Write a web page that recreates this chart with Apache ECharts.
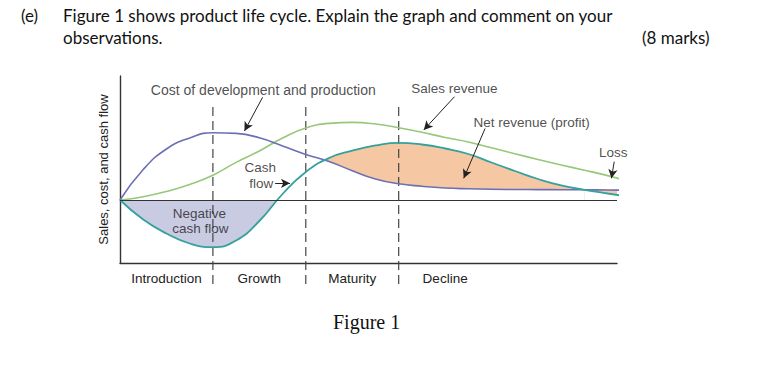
<!DOCTYPE html>
<html>
<head>
<meta charset="utf-8">
<script src="https://cdn.jsdelivr.net/npm/echarts@6/dist/echarts.min.js"></script>
<style>
  html, body { margin:0; padding:0; background:#fff; }
  #wrap { position:relative; width:758px; height:375px; overflow:hidden; }
  #chart { position:absolute; left:0; top:0; width:758px; height:375px; }
  .t { position:absolute; font-family: Lato, "Open Sans", sans-serif; font-size:17px; line-height:20px; color:#111; white-space:nowrap; }
  .cap { position:absolute; font-family: "Liberation Serif", "DejaVu Serif", serif; font-size:20px; line-height:24px; color:#111; white-space:nowrap; }
</style>
</head>
<body>
<div id="wrap">
  <div id="chart"></div>
  <div class="t" style="left:21px; top:6px;">(e)</div>
  <div class="t" style="left:63px; top:6px;">Figure 1 shows product life cycle. Explain the graph and comment on your</div>
  <div class="t" style="left:63px; top:28px;">observations.</div>
  <div class="t" style="left:642px; top:28px;">(8 marks)</div>
  <div class="cap" style="left:333px; top:310px;">Figure 1</div>
</div>
<script>
// ---- data ----
const stageNames = ['Introduction', 'Growth', 'Maturity', 'Decline'];
const stageMid = [0.5, 1.5, 2.5, 3.5];
const stageBounds = [1, 2, 3];
const yAxisTitle = 'Sales, cost, and cash flow';

// shared x samples (stage units) for cost and cash flow
const xs       = [0, 0.25, 0.5, 0.75, 1, 1.25, 1.5, 1.75, 2, 2.25, 2.5, 2.75, 3, 3.25, 3.5, 3.75, 4, 4.25, 4.5, 4.75, 5, 5.25, 5.55];
const costVals = [0, 30.5, 51, 62, 67.3, 66.6, 62.2, 54, 45.5, 38.5, 29.3, 21, 16.2, 13.7, 12, 11.2, 10.7, 10.5, 10.4, 10.3, 10.2, 10, 9.8];
const cashVals = [0, -19.5, -33.5, -43.5, -47.2, -40.5, -21, 6, 28, 42, 49.3, 54.6, 57.2, 55.5, 51.5, 46, 37.5, 29, 21, 14.6, 10.2, 6.5, 2.2];

const salesX    = [0, 0.25, 0.5, 0.75, 1, 1.25, 1.5, 1.75, 2, 2.25, 2.5, 2.75, 3, 3.25, 3.5, 3.75, 4, 4.25, 4.5, 4.75, 5, 5.25, 5.38];
const salesVals = [0, 3.3, 8.6, 15.5, 24.8, 37.6, 49, 62, 72, 76.6, 77.6, 76, 72.2, 67.7, 62.5, 58, 52.2, 46.3, 40.5, 35, 29.8, 24.4, 21.2];

// ranges used for the shaded areas
const negRange = [0, 1.75];      // negative cash flow (below zero)
const profitRange = [1.75, 5];   // cash flow above cost
const lossRange = [5, 5.55];     // cost above cash flow

const annotations = [
  { name: 'Cost of development and production', value: [1.543, 110], label: { fontSize: 14 } },
  { name: 'Sales revenue', value: [3.6, 112] },
  { name: 'Net revenue (profit)', value: [4.43, 78] },
  { name: 'Loss', value: [5.31, 47.3] },
  { name: 'Cash', value: [1.51, 32.7] },
  { name: 'flow', value: [1.52, 16.7] },
  { name: 'Negative', value: [0.855, -13.3] },
  { name: 'cash flow', value: [0.865, -28.3] }
];
const arrows = [
  [[1.535, 102.7], [1.34, 69]],
  [[3.6, 103.3], [3.27, 70]],
  [[3.93, 71.5], [3.70, 21.7]],
  [[5.32, 38.3], [5.29, 21.7]],
  [[1.67, 16.7], [1.83, 16.7]]
];
const dashTop = 93, dashBottom = -84;

// ---- build options ----
const pairs = (xa, ya) => xa.map((x, i) => [x, ya[i]]);
const within = (xa, ya, r) => xa.map((x, i) => [x, (x >= r[0] && x <= r[1]) ? ya[i] : '-']);

const costData = pairs(xs, costVals);
const cashData = pairs(xs, cashVals);
const salesData = pairs(salesX, salesVals);

const COST = '#6c6fb3', SALES = '#96c879', CASH = '#35a19d';
const LAV = '#c9cbe3', PEACH = '#f5c8a3', WHITE = '#ffffff';
const AXIS = '#333';
const FONT = '"Liberation Sans", Arial, sans-serif';
const hidden = { opacity: 0, width: 0 };

function fill(data, color, z) {
  return { type: 'line', data: data, smooth: true, symbol: 'none', clip: false, silent: true, z: z,
    lineStyle: hidden, areaStyle: { color: color, opacity: 1, origin: 0 } };
}

const series = [
  fill(within(xs, cashVals, negRange), LAV, 1),
  fill(within(xs, cashVals, profitRange), PEACH, 1),
  fill(within(xs, costVals, [0, profitRange[1]]), WHITE, 1),
  fill(within(xs, costVals, lossRange), PEACH, 1),
  fill(within(xs, cashVals, lossRange), WHITE, 1),
  { type: 'line', data: [], symbol: 'none', z: 3, silent: true,
    markLine: { silent: true, symbol: 'none', label: { show: false },
      lineStyle: { color: AXIS, width: 1, type: 'solid' }, data: [{ yAxis: 0 }] } }
];

stageBounds.forEach((b) => {
  series.push({ type: 'line', data: [[b, dashTop], [b, dashBottom]], symbol: 'none', clip: false, z: 3, silent: true,
    lineStyle: { color: '#444', width: 1.2, type: [9, 5] } });
});

series.push(
  { type: 'line', name: 'Sales revenue', data: salesData, smooth: true, symbol: 'none', clip: false, z: 4,
    lineStyle: { color: SALES, width: 1.6 } },
  { type: 'line', name: 'Cost', data: costData, smooth: true, symbol: 'none', clip: false, z: 4,
    lineStyle: { color: COST, width: 1.6 } },
  { type: 'line', name: 'Cash flow', data: cashData, smooth: true, symbol: 'none', clip: false, z: 4,
    lineStyle: { color: CASH, width: 1.8 } },
  { type: 'line', data: [], symbol: 'none', z: 6, silent: true,
    markLine: { silent: true, symbol: ['none', 'arrow'], symbolSize: [7, 9], label: { show: false },
      lineStyle: { color: '#222', width: 1, type: 'solid' },
      data: arrows.map(a => [{ coord: a[0] }, { coord: a[1] }]) } },
  { type: 'scatter', data: annotations, symbolSize: 0, z: 7, silent: true, clip: false,
    label: { show: true, position: 'inside', formatter: '{b}', color: '#222', fontSize: 13.5, fontFamily: FONT } }
);

const chart = echarts.init(document.getElementById('chart'), null, { renderer: 'svg' });
chart.setOption({
  animation: false,
  backgroundColor: '#fff',
  grid: { left: 120, right: 141, top: 76, bottom: 112 },
  xAxis: {
    type: 'value', min: 0, max: 5.35,
    axisLine: { show: true, onZero: false, lineStyle: { color: AXIS, width: 1.4 } },
    axisTick: { show: false },
    splitLine: { show: false },
    axisLabel: {
      customValues: stageMid,
      formatter: (v) => { const i = stageMid.indexOf(v); return i >= 0 ? stageNames[i] : ''; },
      color: '#222', fontSize: 13.5, fontFamily: FONT, margin: 8
    }
  },
  yAxis: {
    type: 'value', min: -63, max: 124,
    name: yAxisTitle, nameLocation: 'middle', nameGap: 10,
    nameTextStyle: { color: '#222', fontSize: 13, fontFamily: FONT },
    axisLine: { show: true, lineStyle: { color: AXIS, width: 1.4 } },
    axisTick: { show: false },
    axisLabel: { show: false },
    splitLine: { show: false }
  },
  series: series
});
</script>
</body>
</html>
